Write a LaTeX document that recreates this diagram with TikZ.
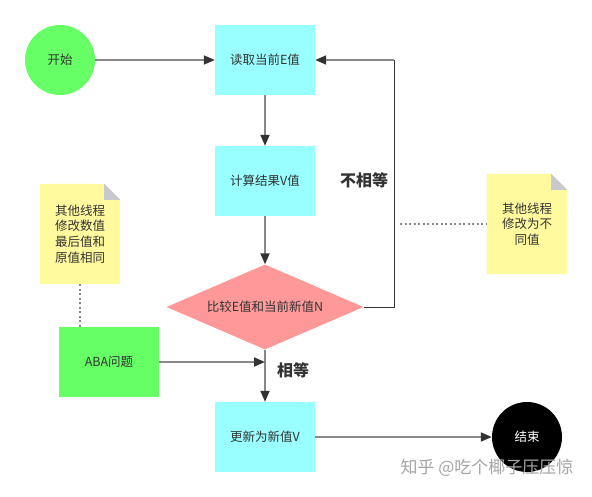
\documentclass[tikz,border=0pt]{standalone}
\usepackage{fontspec}
\setmainfont{Noto Sans CJK SC}
\usetikzlibrary{arrows.meta,shapes.geometric,backgrounds}
\definecolor{startgreen}{HTML}{66FF66}
\definecolor{procyan}{HTML}{99FFFF}
\definecolor{decpink}{HTML}{FF9999}
\definecolor{notefill}{HTML}{FFFA9E}
\definecolor{foldgray}{HTML}{C8C8CE}
\definecolor{linegray}{HTML}{888888}
\definecolor{tipdark}{HTML}{333333}
\definecolor{txt}{HTML}{333333}
\begin{document}
\begin{tikzpicture}[x=1pt,y=-1pt,
  basefont/.style={font=\fontsize{12.5}{15.5}\selectfont, text=txt},
  procbox/.style={basefont, rectangle, fill=procyan, minimum width=100pt, minimum height=70pt, inner sep=0pt},
  abanode/.style={basefont, rectangle, fill=startgreen, minimum width=100pt, minimum height=70pt, inner sep=0pt},
  startnode/.style={basefont, circle, fill=startgreen, minimum size=70pt, inner sep=0pt},
  endnode/.style={font=\fontsize{12.5}{15.5}\selectfont, text=white, circle, fill=black, minimum size=70pt, inner sep=0pt},
  decision/.style={basefont, diamond, aspect=2.3, fill=decpink, minimum width=197pt, minimum height=85pt, inner sep=0pt},
  notetext/.style={font=\fontsize{12.5}{15.6}\selectfont, text=txt, align=center, minimum width=80pt, minimum height=100pt, inner sep=0pt},
  lbl/.style={font=\fontsize{16}{19}\selectfont\bfseries, text=txt, inner sep=0pt},
  wm/.style={font=\fontsize{17}{20}\selectfont, text=black!35, inner sep=0pt},
  flow/.style={draw=linegray, line width=1.8pt, -{Triangle[length=11pt,width=9pt,color=tipdark]}},
  loopline/.style={draw=tipdark, line width=0.9pt},
  dotline/.style={draw=linegray, line width=1.3pt, dash pattern=on 2pt off 2.5pt}
]
\useasboundingbox (0,0) rectangle (592,497);

% nodes
\node[startnode] (start) at (60,60) {开始};
\node[procbox] (read) at (265,60) {读取当前E值};
\node[procbox] (calc) at (265,181) {计算结果V值};
\node[decision] (cmp) at (265,307) {比较E值和当前新值N};
\node[abanode] (aba) at (109,362) {ABA问题};
\node[procbox] (upd) at (265,437) {更新为新值V};
\node[endnode] (end) at (527,437) {结束};

\node[lbl] (neq) at (364,180) {不相等};
\node[lbl] (eq) at (293,370) {相等};

\node[notetext] (n1) at (80,234) {其他线程\\修改数值\\最后值和\\原值相同};
\node[notetext] (n2) at (527,224) {其他线程\\修改为不\\同值};

\begin{scope}[on background layer]
  \fill[white] (0,0) rectangle (592,497);
  \foreach \nn in {n1,n2}{
    \fill[notefill] (\nn.north west) -- ([xshift=-16pt]\nn.north east) -- ([yshift=-16pt]\nn.north east) -- (\nn.south east) -- (\nn.south west) -- cycle;
    \fill[foldgray] ([xshift=-16pt]\nn.north east) -- ([yshift=-16pt]\nn.north east) -- ([xshift=-16pt,yshift=-16pt]\nn.north east) -- cycle;
  }
\end{scope}

\node[wm] (wm) at (487,468) {知乎 @吃个椰子压压惊};

% connectors
\draw[flow] (start) -- (read);
\draw[flow] (read) -- (calc);
\draw[flow] (calc) -- (cmp);
\draw[flow] (cmp) -- (upd);
\draw[flow] (aba.east) -- (aba.east -| cmp.south);
\draw[flow] (upd) -- (end);

\coordinate (lb) at (394,307);
\coordinate (lt) at (394,60);
\draw[loopline] (cmp.east) -- (lb) -- (lt);
\draw[flow] (lt) -- (read.east);

\coordinate (d1) at (400,224);
\draw[dotline] (d1) -- (n2.west);
\draw[dotline] (n1.south) -- (n1.south |- aba.north);
\end{tikzpicture}
\end{document}
